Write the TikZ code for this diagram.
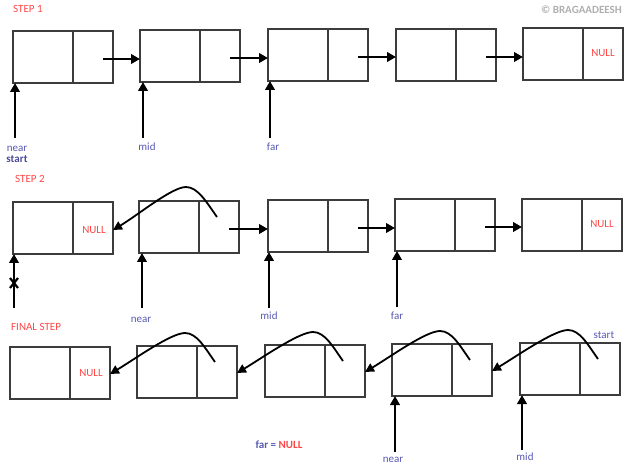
\documentclass[tikz,border=0pt]{standalone}
\usepackage{fontspec}
\setmainfont{Carlito}
\usetikzlibrary{arrows.meta,calc}
\definecolor{lblblue}{RGB}{88,88,180}
\definecolor{lblred}{RGB}{255,70,70}
\definecolor{wmgray}{RGB}{175,175,175}
\definecolor{edge}{RGB}{60,60,60}
\tikzset{
  cell/.style={draw=edge, line width=1.1pt, inner sep=0pt, outer sep=0pt, minimum height=52pt, anchor=north west},
  datacell/.style={cell, minimum width=60pt},
  ptrcell/.style={cell, minimum width=40pt},
  link/.style={line width=2.7pt, -{Triangle[length=9pt,width=9.5pt]}},
  hook/.style={line width=1.8pt, -{Triangle[length=9pt,width=9pt]}},
  lbl/.style={font=\fontsize{11pt}{12pt}\selectfont, text=lblblue, inner sep=0pt},
  steplbl/.style={font=\fontsize{11pt}{12pt}\selectfont, text=lblred, inner sep=0pt, anchor=west},
  nulltxt/.style={font=\fontsize{11pt}{12pt}\selectfont, text=lblred, inner sep=0pt},
}
\newcommand{\llnode}[3]{%
  \node[datacell] (#1d) at (#2,#3) {};
  \node[ptrcell] (#1p) at (#1d.north east) {};
}
\begin{document}
\begin{tikzpicture}[x=1pt,y=-1pt]
\useasboundingbox (0,0) rectangle (627,473);

% watermark
\node[font=\bfseries\fontsize{11pt}{12pt}\selectfont, text=wmgray, inner sep=0pt, anchor=east] (wm) at (622,10) {© BRAGAADEESH};

% ================= STEP 1 =================
\node[steplbl] (s1) at (13,9) {STEP 1};
\llnode{a1}{13}{31}
\llnode{a2}{140}{30}
\llnode{a3}{268}{29}
\llnode{a4}{396}{29}
\llnode{a5}{523}{28}
\node[nulltxt] (a5null) at ($(a5p.center)+(0,-1)$) {NULL};

\foreach \i/\j in {1/2,2/3,3/4,4/5}{
  \draw[link] ($(a\i p.east)+(-10,2)$) -- ($(a\j d.west |- a\i p.east)+(0,2)$);
}

\coordinate (a1tail) at (15,138);
\coordinate (a2tail) at (143,138);
\coordinate (a3tail) at (270,138);
\draw[link] (a1tail) -- ($(a1d.south west)+(2,0)$);
\draw[link] (a2tail) -- ($(a2d.south west)+(3,0)$);
\draw[link] (a3tail) -- ($(a3d.south west)+(2,0)$);
\node[lbl] (n1) at (17,149) {near};
\node[lbl, font=\bfseries\fontsize{11pt}{12pt}\selectfont, text=lblblue!85!black] (st1) at (17,159.5) {start};
\node[lbl] (m1) at (147,147) {mid};
\node[lbl] (f1) at (273,147) {far};

% ================= STEP 2 =================
\node[steplbl] (s2) at (15,179) {STEP 2};
\llnode{b1}{13}{202}
\llnode{b2}{139}{201}
\llnode{b3}{268}{200}
\llnode{b4}{395}{199}
\llnode{b5}{522}{199}
\node[nulltxt] (b1null) at ($(b1p.center)+(1,2)$) {NULL};
\node[nulltxt] (b5null) at ($(b5p.center)+(0,-1)$) {NULL};

% reversed link of box 2
\coordinate (b2s) at ($(b2p.north east)+(-22,16)$);
\coordinate (b2k) at ($(b2p.north east)+(-53,-14)$);
\draw[hook] (b2s) .. controls +(-10,-14) and +(12,0) .. (b2k)
   .. controls +(-14,0) and +(25,-15) .. ($(b1p.east)+(0,2)$);

\foreach \i/\j in {2/3,3/4,4/5}{
  \draw[link] ($(b\i p.east)+(-10,2)$) -- ($(b\j d.west |- b\i p.east)+(0,2)$);
}

\coordinate (b1tail) at (14,308);
\coordinate (b2tail) at (142,308);
\coordinate (b3tail) at (269,308);
\coordinate (b4tail) at (397,307);
\draw[link] (b1tail) -- ($(b1d.south west)+(1,0)$);
\draw[link] (b2tail) -- ($(b2d.south west)+(3,0)$);
\draw[link] (b3tail) -- ($(b3d.south west)+(1,0)$);
\draw[link] (b4tail) -- ($(b4d.south west)+(2,0)$);
\coordinate (xc) at (14,283);
\draw[line width=2.2pt] ($(xc)+(-4,-5)$) -- ($(xc)+(4,5)$);
\draw[line width=2.2pt] ($(xc)+(-4,5)$) -- ($(xc)+(4,-5)$);
\node[lbl] (n2) at (141,320) {near};
\node[lbl] (m2) at (269,316) {mid};
\node[lbl] (f2) at (397,316) {far};

% ================= FINAL STEP =================
\node[steplbl] (s3) at (11,327) {FINAL STEP};
\llnode{c1}{10}{347}
\llnode{c2}{137}{346}
\llnode{c3}{265}{345}
\llnode{c4}{392}{344}
\llnode{c5}{520}{343}
\node[nulltxt] (c1null) at ($(c1p.center)+(1,0)$) {NULL};

\foreach \i/\j in {2/1,3/2,4/3,5/4}{
  \coordinate (c\i s) at ($(c\i p.north east)+(-22,16)$);
  \coordinate (c\i k) at ($(c\i p.north east)+(-52,-13)$);
  \draw[hook] (c\i s) .. controls +(-10,-14) and +(12,0) .. (c\i k)
     .. controls +(-14,0) and +(25,-15) .. ($(c\j p.east)+(0,1)$);
}

\node[lbl] (st3) at (604,335) {start};
\coordinate (c4tail) at (395,452);
\coordinate (c5tail) at (522,450);
\draw[link] (c4tail) -- ($(c4d.south west)+(3,0)$);
\draw[link] (c5tail) -- ($(c5d.south west)+(2,0)$);
\node[lbl] (n3) at (393,460) {near};
\node[lbl] (m3) at (525,457) {mid};
\node[lbl, font=\bfseries\fontsize{11pt}{12pt}\selectfont] (fn) at (279,445) {far = \textcolor{lblred}{NULL}};
\end{tikzpicture}
\end{document}
